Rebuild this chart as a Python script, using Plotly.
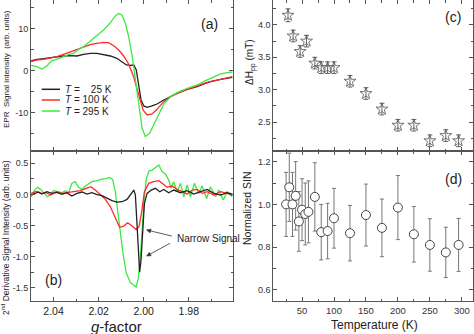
import plotly.graph_objects as go

# ---------------- Panel (a): EPR spectra ----------------
g_a_25 = [2.0499, 2.0474, 2.0444, 2.0415, 2.0385, 2.0356, 2.0326, 2.0296, 2.0267, 2.0237,
          2.0207, 2.0178, 2.0148, 2.0119, 2.0096, 2.0077, 2.0059, 2.0044, 2.0033, 2.0022,
          2.0012, 2.0000, 1.9985, 1.9963, 1.9941, 1.9911, 1.9881, 1.9852, 1.9807, 1.9763,
          1.9733, 1.9704, 1.9659, 1.9607]
i_a_25 = [2.38, 2.78, 2.94, 3.17, 3.41, 3.57, 3.65, 3.57, 3.97, 4.21,
          4.21, 3.97, 3.57, 3.02, 2.22, 1.43, 1.35, 1.43, 0.24, -3.73,
          -6.9, -8.33, -8.65, -8.33, -7.86, -6.9, -6.11, -5.32, -4.37, -3.73,
          -3.10, -2.54, -1.98, -1.51]

g_a_100 = [2.0499, 2.0474, 2.0444, 2.0415, 2.0385, 2.0356, 2.0326, 2.0296, 2.0267, 2.0237,
           2.0207, 2.0178, 2.0156, 2.0133, 2.0111, 2.0089, 2.0067, 2.0044, 2.0022, 2.0003,
           1.9985, 1.9963, 1.9941, 1.9911, 1.9881, 1.9852, 1.9807, 1.9763, 1.9719, 1.9659,
           1.9607]
i_a_100 = [2.22, 2.62, 2.78, 3.02, 3.41, 3.97, 4.52, 5.16, 5.79, 6.27,
           6.59, 6.83, 6.75, 6.03, 5.0, 3.57, 1.67, -1.51, -5.71, -9.29,
           -10.48, -10.24, -9.13, -7.30, -6.11, -5.32, -4.37, -3.57, -2.70, -1.98,
           -1.35]

g_a_295 = [2.0499, 2.0474, 2.0452, 2.0430, 2.0407, 2.0385, 2.0356, 2.0333, 2.0311, 2.0289,
           2.0267, 2.0237, 2.0207, 2.0178, 2.0148, 2.0126, 2.0111, 2.0096, 2.0081, 2.0067,
           2.0052, 2.0037, 2.0022, 2.0007, 1.9993, 1.9973, 1.9956, 1.9933, 1.9911, 1.9881,
           1.9852, 1.9807, 1.9763, 1.9726, 1.9689, 1.9659, 1.9630, 1.9607]
i_a_295 = [1.35, 1.03, 0.48, 1.19, 2.46, 2.78, 3.41, 3.97, 4.21, 5.16,
           5.79, 7.06, 8.33, 9.76, 11.5, 13.1, 13.7, 13.3, 11.3, 8.17,
           3.81, -1.75, -8.49, -13.65, -15.6, -14.8, -12.86, -10.08, -7.86, -6.11,
           -5.16, -4.13, -3.33, -2.30, -1.51, -0.71, -0.40, -0.24]

# ---------------- Panel (b): 2nd derivative ----------------
g_b_25 = [2.0499, 2.0481, 2.0467, 2.0452, 2.0430, 2.0407, 2.0385, 2.0363, 2.0341, 2.0319,
          2.0296, 2.0274, 2.0252, 2.0230, 2.0207, 2.0185, 2.0163, 2.0141, 2.0119, 2.0096,
          2.0074, 2.0056, 2.0044, 2.0037, 2.0030, 2.0022, 2.0018, 2.0012, 2.0004, 1.9997,
          1.9985, 1.9967, 1.9948, 1.9929, 1.9911, 1.9889, 1.9867, 1.9837, 1.9807, 1.9778,
          1.9748, 1.9719, 1.9689, 1.9659, 1.9630, 1.9607]
i_b_25 = [-0.01, 0.016, 0.038, 0.005, 0.043, 0.016, 0.032, 0.0, 0.027, -0.027,
          0.016, 0.038, 0.005, 0.027, -0.005, -0.02, -0.065, -0.10, -0.124, -0.118,
          -0.08, 0.016, 0.07, -0.01, -0.41, -1.0, -1.25, -1.06, -0.575, -0.145,
          0.016, 0.07, 0.097, 0.043, 0.08, 0.027, 0.07, 0.027, 0.059, 0.005,
          0.043, 0.08, 0.016, -0.01, 0.027, 0.005]

g_b_100 = [2.0499, 2.0477, 2.0456, 2.0433, 2.0412, 2.0388, 2.0363, 2.0341, 2.0311, 2.0281,
           2.0255, 2.0234, 2.0215, 2.0193, 2.0170, 2.0148, 2.0126, 2.0107, 2.0089, 2.0071,
           2.0052, 2.0033, 2.0021, 2.0009, 1.9997, 1.9978, 1.9956, 1.9933, 1.9914, 1.9896,
           1.9874, 1.9852, 1.9830, 1.9807, 1.9785, 1.9763, 1.9741, 1.9719, 1.9689, 1.9659,
           1.9630, 1.9607]
i_b_100 = [0.016, 0.048, 0.016, 0.027, -0.01, 0.043, 0.016, 0.027, 0.043, 0.059,
           0.097, 0.124, 0.07, -0.01, -0.08, -0.2, -0.387, -0.53, -0.51, -0.457,
           -0.51, -0.565, -0.52, -0.28, 0.043, 0.177, 0.204, 0.22, 0.167, 0.113,
           0.134, 0.08, 0.043, 0.005, 0.07, 0.08, 0.016, 0.043, -0.01, 0.043,
           0.016, -0.016]

g_b_295 = [2.0499, 2.0484, 2.0471, 2.0456, 2.0441, 2.0427, 2.0415, 2.0400, 2.0382, 2.0363,
           2.0348, 2.0333, 2.0319, 2.0304, 2.0289, 2.0274, 2.0259, 2.0244, 2.0230, 2.0207,
           2.0190, 2.0170, 2.0151, 2.0138, 2.0126, 2.0116, 2.0104, 2.0092, 2.0077, 2.0059,
           2.0044, 2.0034, 2.0024, 2.0015, 2.0006, 1.9997, 1.9988, 1.9976, 1.9963, 1.9948,
           1.9933, 1.9919, 1.9904, 1.9889, 1.9879, 1.9867, 1.9852, 1.9837, 1.9822, 1.9807,
           1.9793, 1.9775, 1.9756, 1.9741, 1.9721, 1.9704, 1.9681, 1.9667, 1.9647, 1.9630,
           1.9607]
i_b_295 = [-0.038, 0.07, 0.113, 0.08, 0.016, -0.038, -0.01, 0.059, 0.043, 0.027,
           0.059, 0.027, 0.177, 0.204, 0.113, 0.08, 0.134, 0.177, 0.204, 0.22,
           0.242, 0.253, 0.274, 0.242, 0.043, -0.25, -0.60, -0.95, -1.27, -1.42,
           -1.46, -1.49, -1.35, -1.0, -0.52, -0.038, 0.258, 0.38, 0.39, 0.435,
           0.473, 0.366, 0.328, 0.23, 0.097, 0.204, 0.043, 0.177, -0.038, 0.151,
           -0.038, 0.177, 0.016, 0.134, -0.065, 0.124, -0.038, 0.07, -0.09, 0.043,
           -0.038]

# ---------------- Panel (c): linewidth ----------------
T_c = [28, 36, 47, 57, 70, 80, 90, 100, 125, 150, 175, 200, 225, 250, 275, 295]
dHpp = [4.15, 3.83, 3.59, 3.75, 3.41, 3.34, 3.34, 3.34, 3.13, 2.94, 2.70, 2.45, 2.45, 2.21, 2.29, 2.21]
dHpp_err = [0.1, 0.09, 0.09, 0.09, 0.09, 0.09, 0.09, 0.09, 0.09, 0.09, 0.09, 0.09, 0.09, 0.09, 0.09, 0.09]

# ---------------- Panel (d): normalized S/N ----------------
T_d = [25, 30, 35, 40, 45, 50, 55, 60, 70, 80, 90, 100, 125, 150, 175, 200, 225, 250, 275, 295]
sn = [1.0, 1.08, 1.0, 1.04, 0.92, 0.975, 0.955, 0.965, 1.035, 0.87, 0.875, 0.935, 0.865, 0.95, 0.89,
      0.985, 0.86, 0.81, 0.775, 0.81]
sn_err = [0.15, 0.16, 0.15, 0.16, 0.14, 0.145, 0.145, 0.145, 0.16, 0.13, 0.13, 0.14, 0.13, 0.145, 0.135,
          0.15, 0.13, 0.123, 0.118, 0.124]

W, H = 474, 334
FONT = "Liberation Sans, Arial, sans-serif"
C_BLACK, C_RED, C_GREEN = "#222222", "#ff2a2a", "#3ee83e"
AX = "#555555"

fig = go.Figure()

def line(x, y, c, xa, ya):
    fig.add_trace(go.Scatter(x=x, y=y, mode="lines", line=dict(color=c, width=1.3),
                             xaxis=xa, yaxis=ya, showlegend=False))

line(g_a_25, i_a_25, C_BLACK, "x", "y")
line(g_a_100, i_a_100, C_RED, "x", "y")
line(g_a_295, i_a_295, C_GREEN, "x", "y")
line(g_b_295, i_b_295, C_GREEN, "x2", "y2")
line(g_b_100, i_b_100, C_RED, "x2", "y2")
line(g_b_25, i_b_25, C_BLACK, "x2", "y2")

fig.add_trace(go.Scatter(x=T_c, y=dHpp, mode="markers", xaxis="x3", yaxis="y3", showlegend=False,
                         marker=dict(symbol="star-open", size=9, color="#555", line=dict(width=0.8)),
                         error_y=dict(type="data", array=dHpp_err, color="#555", thickness=0.9, width=2.5)))
fig.add_trace(go.Scatter(x=T_d, y=sn, mode="markers", xaxis="x4", yaxis="y4", showlegend=False,
                         marker=dict(symbol="circle", size=9, color="white", line=dict(width=1, color="#444")),
                         error_y=dict(type="data", array=sn_err, color="#777", thickness=1, width=2)))

def px_x(p):
    return p / W

def px_y(p):
    return 1 - p / H

mid = px_y(151)
bot = px_y(301.3)
LX = [px_x(31), px_x(233)]
RX = [px_x(273.3), px_x(473.3)]

common = dict(showline=True, linecolor=AX, linewidth=1, mirror="allticks", ticks="inside",
              ticklen=4, tickcolor=AX, showgrid=False, zeroline=False,
              tickfont=dict(family=FONT, size=9, color="#333"))

gx_minor = dict(dtick=0.01, tick0=2.0, ticks="inside", ticklen=2.5, tickcolor=AX)

fig.update_layout(
    width=W, height=H, margin=dict(l=0, r=0, t=0, b=0),
    paper_bgcolor="white", plot_bgcolor="white",
    font=dict(family=FONT, color="#222"),
    xaxis=dict(common, domain=LX, anchor="y", range=[2.05, 1.9604], tick0=2.0, dtick=0.02,
               showticklabels=False, minor=gx_minor),
    yaxis=dict(common, domain=[mid, 1], anchor="x", range=[-19.05, 16.9],
               tickmode="array", tickvals=[-10, 0, 10], ticktext=["-10", "0", "10"],
               minor=dict(dtick=5, tick0=0, ticks="inside", ticklen=2.5, tickcolor=AX)),
    xaxis2=dict(common, domain=LX, anchor="y2", range=[2.05, 1.9604], tick0=2.0, dtick=0.02,
                minor=gx_minor, tickformat=".2f",
                tickfont=dict(family=FONT, size=10.5, color="#222")),
    yaxis2=dict(common, domain=[bot, mid], anchor="x2", range=[-1.72, 0.698],
                tickmode="array", tickvals=[-1.5, -1.0, -0.5, 0.0, 0.5],
                ticktext=["-1.5", "-1.0", "-0.5", "0.0", "0.5"],
                minor=dict(dtick=0.25, tick0=0, ticks="inside", ticklen=2.5, tickcolor=AX)),
    xaxis3=dict(common, domain=RX, anchor="y3", range=[5, 318], dtick=50, tick0=0,
                showticklabels=False,
                minor=dict(dtick=25, tick0=0, ticks="inside", ticklen=2.5, tickcolor=AX)),
    yaxis3=dict(common, domain=[mid, 1], anchor="x3", range=[2.052, 4.386],
                tickvals=[2.5, 3.0, 3.5, 4.0], ticktext=["2.5", "3.0", "3.5", "4.0"], tickmode="array",
                minor=dict(dtick=0.25, tick0=0, ticks="inside", ticklen=2.5, tickcolor=AX)),
    xaxis4=dict(common, domain=RX, anchor="y4", range=[5, 318], dtick=50, tick0=0,
                minor=dict(dtick=25, tick0=0, ticks="inside", ticklen=2.5, tickcolor=AX),
                tickfont=dict(family=FONT, size=9.5, color="#333")),
    yaxis4=dict(common, domain=[bot, mid], anchor="x4", range=[0.546, 1.25],
                tickmode="array", tickvals=[0.6, 0.8, 1.0, 1.2], ticktext=["0.6", "0.8", "1.0", "1.2"],
                minor=dict(dtick=0.1, tick0=0, ticks="inside", ticklen=2.5, tickcolor=AX)),
)

ann = []
def text(x, y, t, size, angle=0, xanchor="center", ref=("paper", "paper")):
    ann.append(dict(x=x, y=y, xref=ref[0], yref=ref[1], text=t, showarrow=False, textangle=angle,
                    xanchor=xanchor, yanchor="middle", font=dict(family=FONT, size=size, color="#222")))

# panel labels
text(px_x(209), px_y(24), "(a)", 14)
text(px_x(53), px_y(280), "(b)", 14)
text(px_x(453), px_y(17), "(c)", 14)
text(px_x(453), px_y(179), "(d)", 14)

# axis titles
text(px_x(6), px_y(69), "EPR\u00a0\u00a0Signal intensity\u00a0\u00a0(arb. units)", 8, angle=-90)
text(px_x(6), px_y(238), "2<sup>nd</sup> Derivative Signal Intensity (arb. units)", 8.5, angle=-90)
text(px_x(250), px_y(62), "\u0394H<sub>pp</sub> (mT)", 10, angle=-90)
text(px_x(247), px_y(208), "Normalized SIN", 10.5, angle=-90)
text(px_x(116), px_y(326), "<i>g</i>-factor", 15)
text(px_x(374), px_y(325), "Temperature (K)", 12)

# legend (manual)
leg_items = [("<i>T</i> =\u00a0\u00a0\u00a0 25 K", C_BLACK, 89.3),
             ("<i>T</i> = 100 K", C_RED, 100),
             ("<i>T</i> = 295 K", C_GREEN, 111)]
shapes = []
for lbl, col, yy in leg_items:
    shapes.append(dict(type="line", xref="paper", yref="paper", x0=px_x(41.7), x1=px_x(60),
                       y0=px_y(yy), y1=px_y(yy), line=dict(color=col, width=1.5)))
    text(px_x(63), px_y(yy), lbl, 10, xanchor="left")

# Narrow Signal label with two pointer arrows (drawn as shapes)
text(1.9862, -0.705, "Narrow Signal", 10, xanchor="left", ref=("x2", "y2"))
arrows = [((171.7, 236.0), (146.7, 230.0), [(151.1, 229.0), (150.1, 232.9)]),
          ((170.0, 243.3), (146.7, 256.0), [(151.2, 255.8), (149.3, 252.3)])]
for (tx, ty), (hx, hy), base in arrows:
    shapes.append(dict(type="line", xref="paper", yref="paper", x0=px_x(tx), y0=px_y(ty),
                       x1=px_x(hx), y1=px_y(hy), line=dict(color="#333", width=0.8)))
    path = "M {} {} L {} {} L {} {} Z".format(px_x(hx), px_y(hy), px_x(base[0][0]), px_y(base[0][1]),
                                             px_x(base[1][0]), px_y(base[1][1]))
    shapes.append(dict(type="path", xref="paper", yref="paper", path=path,
                       fillcolor="#333", line=dict(color="#333", width=0.5)))

fig.update_layout(annotations=ann, shapes=shapes)
fig.write_html("out.html")
